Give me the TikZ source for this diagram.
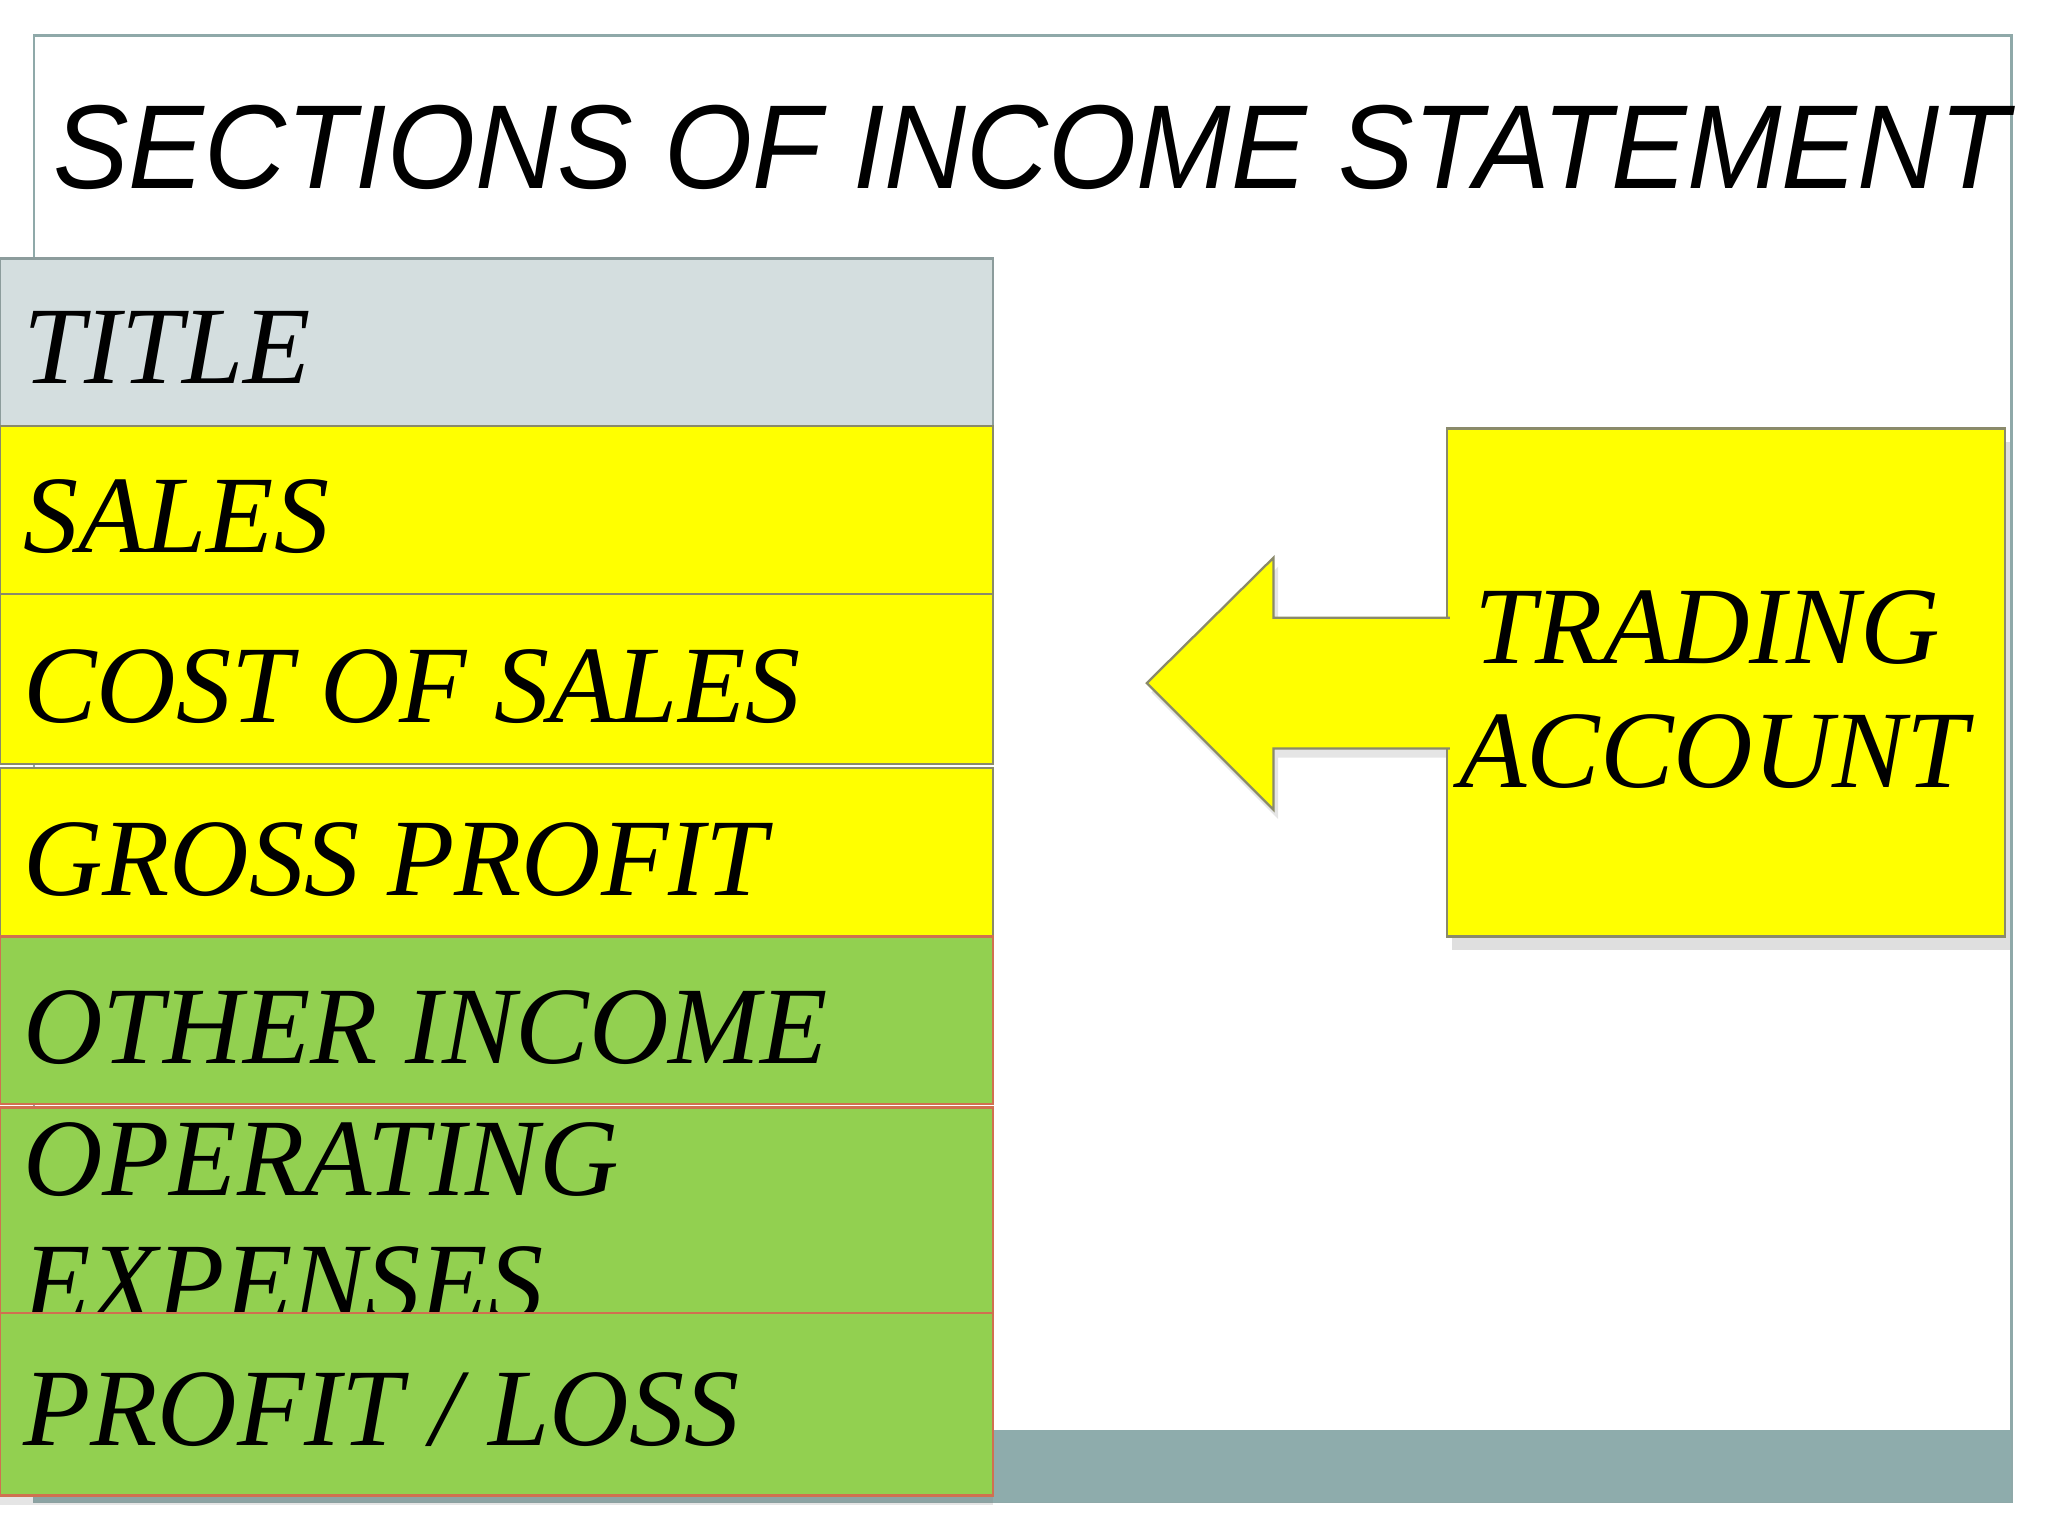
\documentclass[tikz,border=0pt]{standalone}
\usepackage{fontspec}
\setmainfont{Liberation Serif}
\newfontfamily\headfont{Liberation Sans}
\usetikzlibrary{shadows}

\definecolor{framegray}{HTML}{8FA9A9}
\definecolor{bargray}{HTML}{8EACAC}
\definecolor{titlefill}{HTML}{D4DEDF}
\definecolor{titleline}{HTML}{8C9C9C}
\definecolor{boxyellow}{HTML}{FFFF00}
\definecolor{yellowline}{HTML}{8A8A6A}
\definecolor{boxgreen}{HTML}{92D050}
\definecolor{greenline}{HTML}{D07050}

\tikzset{
    rowtext/.style={anchor=base west, inner sep=0pt, font=\fontsize{24}{27}\selectfont\itshape},
    yellowrow/.style={draw=yellowline, line width=0.5pt, fill=boxyellow},
    greenrow/.style={draw=greenline, line width=0.5pt, fill=boxgreen},
}

\begin{document}
\begin{tikzpicture}[x=1cm,y=-1cm]
    % Slide canvas
    \useasboundingbox[fill=white] (0,0) rectangle (15.68,11.76);

    % variables
    \def\colW{7.60}   % width of the left column
    \def\textx{0.17}  % left edge of the row texts

    % Slide frame and bottom bar
    \draw[framegray, line width=0.6pt] (0.26,0.27) rectangle (15.40,11.50);
    \fill[bargray] (0.26,10.95) rectangle (15.40,11.50);

    % Heading
    \node[anchor=base west, inner sep=0pt, font=\headfont\fontsize{26}{30}\selectfont\itshape] (heading) at (0.40,1.44) {\scalebox{0.95}[1]{SECTIONS OF INCOME STATEMENT}};

    % Left column of sections
    \draw[draw=titleline, line width=0.5pt, fill=titlefill] (0,1.98) rectangle (\colW,3.26);
    \node[rowtext] (title) at (\textx,2.94) {TITLE};

    \draw[yellowrow] (0,3.26) rectangle (\colW,4.55);
    \node[rowtext] (sales) at (\textx,4.23) {SALES};

    \draw[yellowrow] (0,4.55) rectangle (\colW,5.85);
    \node[rowtext] (cos) at (\textx,5.53) {COST OF SALES};

    \draw[yellowrow] (0,5.88) rectangle (\colW,7.17);
    \node[rowtext] (gross) at (\textx,6.86) {GROSS PROFIT};

    \draw[greenrow] (0,7.17) rectangle (\colW,8.45);
    \node[rowtext] (other) at (\textx,8.14) {OTHER INCOME};

    \draw[greenrow] (0,8.48) rectangle (\colW,10.05);
    \node[rowtext] (opexa) at (\textx,9.15) {OPERATING};
    \node[rowtext] (opexb) at (\textx,10.10) {EXPENSES};

    % last box drawn over the overflowing text
    \draw[greenrow, drop shadow={opacity=0.2, shadow xshift=0pt, shadow yshift=-2pt}] (0,10.05) rectangle (\colW,11.45);
    \node[rowtext] (pl) at (\textx,11.07) {PROFIT / LOSS};

    % Arrow shadow first, so it stays under the box
    \path[drop shadow={opacity=0.2, shadow xshift=1pt, shadow yshift=-2pt}]
        (11.10,4.73) -- (9.75,4.73) -- (9.75,4.27) -- (8.78,5.23)
        -- (9.75,6.20) -- (9.75,5.73) -- (11.10,5.73) -- cycle;

    % Trading account box
    \coordinate (TA) at (11.08,3.28);
    \coordinate (TB) at (15.35,7.17);
    \draw[yellowrow, drop shadow={opacity=0.25, shadow xshift=1pt, shadow yshift=-3pt}] (TA) rectangle (TB);
    \node[rowtext, anchor=base] (trading) at (13.07,5.08) {TRADING};
    \node[rowtext, anchor=base] (account) at (13.12,6.03) {ACCOUNT};

    % Arrow pointing at the left column (open on the box side)
    \draw[yellowrow]
        (11.10,4.73) -- (9.75,4.73) -- (9.75,4.27) -- (8.78,5.23)
        -- (9.75,6.20) -- (9.75,5.73) -- (11.10,5.73);

\end{tikzpicture}
\end{document}
